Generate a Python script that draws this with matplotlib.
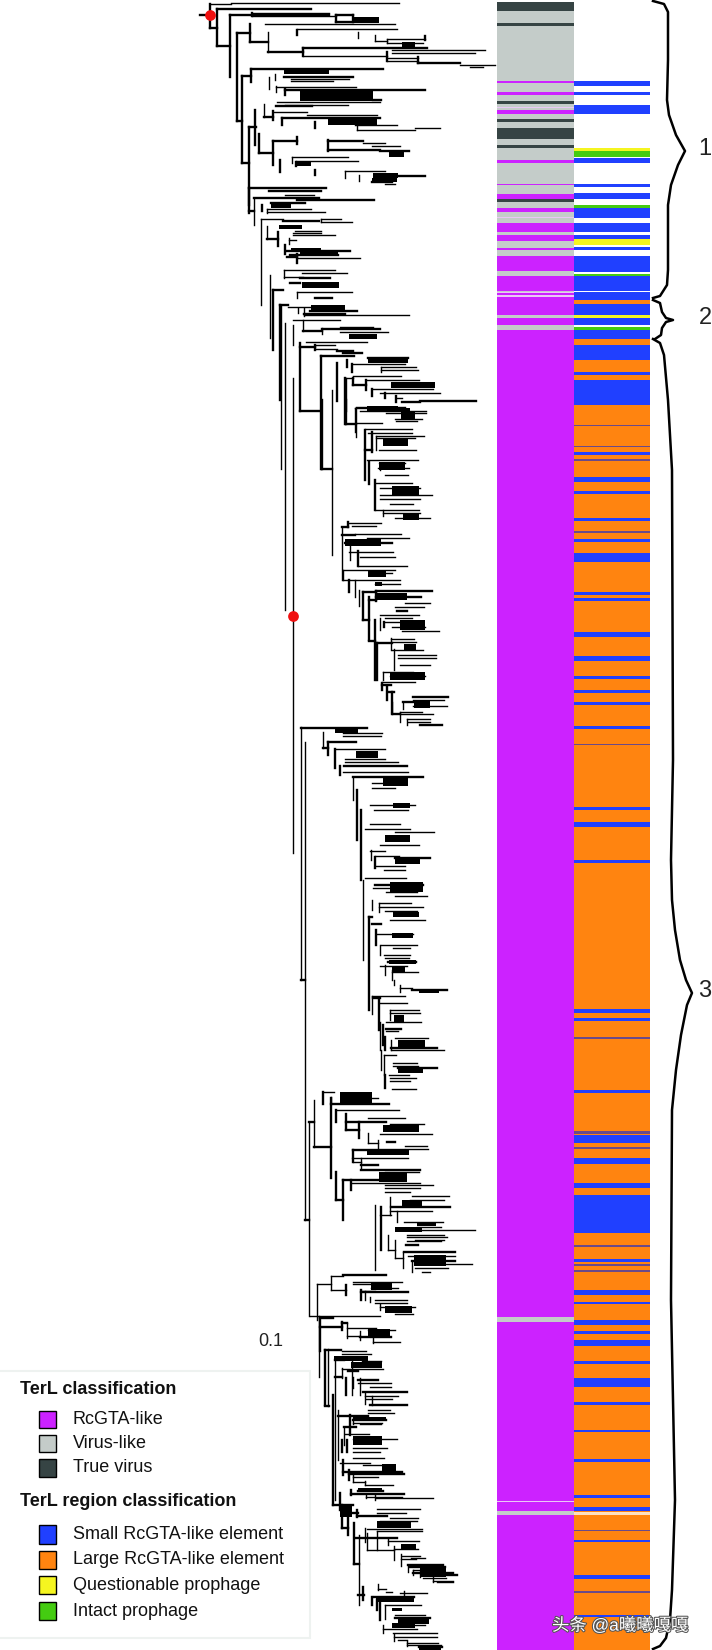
import matplotlib
matplotlib.use("Agg")
import matplotlib.patheffects as pe
import matplotlib.pyplot as plt
import numpy as np

plt.rcParams["font.family"] = ["Liberation Sans", "Noto Sans CJK SC", "DejaVu Sans"]

# stripe limits (image rows)
terl_magenta = [(81, 83), (92, 95), (110, 114), (160, 163), (184, 185), (194, 199), (208, 212), (223, 232),
                (235, 241), (248, 250), (256, 271), (276, 291), (293, 295), (297, 315), (318, 325), (330, 1317),
                (1322, 1501), (1502, 1511), (1515, 1650)]
terl_grey = [(2, 330), (1317, 1322), (1511, 1515)]
terl_dark = [(2, 11), (23, 26), (101, 104), (119, 122), (128, 139), (145, 148), (199, 202)]
terl_pale = [(107, 108), (217, 218), (292, 293), (295, 297), (1501, 1502)]

region_orange = [(300, 304), (339, 345), (360, 372), (375, 380), (405, 1650)]
region_blue = [(81, 86), (92, 95), (105, 114), (158, 163), (184, 187), (193, 199), (208, 218), (223, 232),
               (235, 239), (247, 250), (256, 272), (276, 291), (292, 300), (304, 315), (318, 325), (330, 339),
               (345, 360), (372, 375), (380, 405), (452, 455), (477, 482), (491, 494), (518, 521), (539, 542),
               (553, 562), (592, 595), (598, 601), (632, 637), (656, 661), (676, 679), (690, 693), (702, 705),
               (726, 729), (807, 810), (822, 827), (860, 863), (1009, 1013), (1018, 1021), (1090, 1093),
               (1135, 1143), (1158, 1164), (1183, 1188), (1195, 1233), (1259, 1262), (1290, 1295), (1302, 1304),
               (1320, 1325), (1331, 1334), (1340, 1346), (1361, 1364), (1378, 1387), (1402, 1405), (1430, 1432),
               (1459, 1462), (1495, 1498), (1507, 1511), (1540, 1542), (1575, 1579), (1615, 1617)]
region_slate = [(425, 426), (446, 447), (459, 461), (531, 533), (744, 745), (1037, 1039), (1131, 1134), (1147, 1149),
                (1245, 1247), (1264, 1266), (1270, 1272), (1530, 1531), (1591, 1593)]
region_yellow = [(148, 151), (239, 245), (315, 318)]
region_green = [(151, 157), (205, 208), (274, 276), (327, 330)]
region_pale = [(1512, 1515)]

# tree, top part (y, x0, x1) and (x, y0, y1)
h_thin_a = [(3, 231, 399), (4, 210, 231), (13, 252, 329), (16, 252, 336), (24, 265, 395), (29, 297, 397),
            (50, 392, 485), (53, 392, 475), (56, 303, 387), (58, 387, 418), (61, 387, 418), (65, 460, 495),
            (67, 470, 483), (39, 387, 425), (43, 387, 423), (41, 375, 387), (81, 291, 333), (79, 291, 349),
            (87, 276, 356), (102, 277, 380), (105, 285, 348), (112, 273, 307), (115, 307, 377), (125, 355, 397),
            (130, 357, 415), (128, 415, 440), (143, 363, 385), (146, 372, 400), (157, 292, 348), (161, 296, 358),
            (171, 345, 385), (184, 385, 395), (195, 285, 314), (209, 267, 311), (212, 267, 325), (219, 261, 283),
            (219, 321, 341), (222, 321, 352), (231, 295, 321), (233, 293, 321), (235, 293, 335), (240, 289, 296),
            (258, 298, 360), (270, 284, 335), (273, 302, 347), (277, 284, 303), (292, 297, 352), (307, 288, 312),
            (315, 304, 409), (320, 293, 340), (327, 340, 373), (332, 340, 388), (342, 306, 367), (345, 315, 335),
            (349, 315, 337)]
h_bold_a = [(15, 200, 210), (28, 210, 217), (9, 217, 311), (46, 217, 230), (15, 230, 329), (33, 237, 250),
            (42, 250, 268), (52, 268, 303), (48, 303, 427), (63, 418, 460), (15, 336, 353), (22, 336, 353),
            (76, 242, 251), (69, 251, 383), (77, 284, 353), (90, 285, 425), (100, 373, 381), (106, 276, 312),
            (117, 264, 273), (118, 282, 380), (127, 249, 256), (121, 237, 242), (153, 259, 273), (141, 273, 297),
            (141, 328, 363), (150, 328, 380), (151, 380, 409), (176, 398, 425), (182, 372, 392), (163, 242, 249),
            (188, 249, 326), (191, 269, 321), (198, 254, 319), (200, 297, 374), (203, 271, 305), (211, 249, 254),
            (221, 283, 319), (239, 267, 278), (251, 287, 350), (255, 290, 338), (257, 287, 297), (278, 300, 330),
            (283, 290, 300), (298, 315, 332), (290, 273, 283), (305, 280, 288), (311, 310, 357), (314, 304, 345),
            (329, 322, 380), (331, 303, 322), (347, 300, 315), (351, 337, 353), (353, 343, 362)]
v_thin_a = [(268, 32, 52), (358, 32, 38), (375, 35, 41), (387, 39, 43), (269, 77, 89), (275, 74, 80), (276, 86, 92),
            (264, 104, 117), (357, 125, 130), (292, 157, 163), (345, 171, 178), (359, 175, 181), (254, 198, 225),
            (267, 209, 213), (261, 219, 305), (267, 226, 239), (321, 219, 222), (289, 238, 244), (284, 270, 278),
            (297, 292, 298), (270, 275, 338), (304, 308, 316), (298, 308, 313), (293, 325, 345), (303, 320, 331),
            (322, 328, 334), (285, 323, 610), (281, 305, 469)]
v_bold_a = [(210, 4, 28), (217, 9, 46), (230, 15, 77), (237, 33, 121), (250, 24, 42), (297, 30, 35), (303, 48, 56),
            (387, 52, 61), (418, 57, 63), (425, 36, 40), (252, 13, 16), (336, 15, 22), (353, 15, 22), (242, 76, 163),
            (251, 69, 82), (285, 89, 95), (273, 111, 120), (282, 118, 125), (315, 122, 128), (255, 110, 145),
            (259, 134, 153), (273, 141, 165), (297, 137, 144), (328, 140, 151), (280, 160, 172), (296, 162, 166),
            (315, 170, 175), (249, 127, 205), (249, 188, 213), (262, 205, 211), (278, 232, 246), (285, 245, 254),
            (297, 254, 263), (273, 290, 350), (280, 305, 400), (300, 343, 411), (315, 345, 350)]
blobs_a = [(17, 23, 353, 379), (42, 48, 402, 415), (70, 74, 284, 329), (91, 101, 300, 373), (119, 125, 328, 377),
           (151, 157, 389, 404), (162, 166, 296, 311), (173, 178, 373, 398), (178, 182, 372, 397), (202, 208, 271, 291),
           (225, 229, 279, 302), (248, 252, 291, 321), (250, 256, 300, 338), (282, 288, 302, 339), (305, 312, 311, 345),
           (334, 339, 349, 377)]

# tree, y 340-730
h_thin_b = [(364, 352, 405), (367, 381, 416), (370, 381, 418), (378, 346, 353), (376, 353, 401), (380, 366, 419),
            (389, 372, 433), (393, 380, 440), (398, 396, 402), (408, 355, 398), (411, 360, 426), (419, 395, 422),
            (421, 396, 417), (407, 356, 405), (413, 386, 426), (423, 356, 382), (429, 365, 412), (433, 368, 412),
            (436, 376, 424), (438, 376, 415), (450, 379, 416), (460, 367, 418), (463, 379, 405), (468, 378, 409),
            (475, 385, 408), (483, 375, 412), (488, 380, 420), (495, 380, 432), (499, 380, 420), (504, 390, 413),
            (510, 375, 419), (513, 383, 420), (518, 395, 430), (523, 348, 381), (526, 352, 376), (534, 355, 401),
            (538, 367, 409), (552, 349, 393), (557, 360, 395), (566, 358, 407), (570, 343, 395), (573, 386, 392),
            (580, 343, 400), (584, 375, 400), (603, 405, 430), (607, 395, 424), (615, 380, 419), (618, 385, 412),
            (622, 384, 402), (627, 392, 425), (631, 402, 439), (639, 391, 414), (642, 391, 416), (650, 392, 423),
            (655, 398, 436), (658, 398, 436), (665, 400, 430), (672, 383, 413), (676, 390, 425), (682, 382, 415),
            (700, 413, 444), (706, 413, 447), (712, 400, 422), (714, 400, 433), (719, 407, 430), (722, 408, 430)]
h_bold_b = [(356, 321, 354), (358, 368, 408), (385, 353, 366), (401, 420, 476), (402, 402, 420), (411, 300, 321),
            (424, 346, 356), (469, 322, 332), (450, 365, 372), (543, 345, 392), (527, 342, 348), (535, 342, 355),
            (591, 376, 432), (597, 376, 421), (611, 397, 407), (600, 369, 376), (592, 363, 376), (620, 363, 369),
            (641, 369, 375), (643, 377, 392), (685, 382, 391), (692, 388, 394), (697, 413, 448), (702, 403, 414),
            (714, 392, 400), (725, 420, 442)]
v_thin_b = [(346, 378, 411), (381, 367, 372), (355, 408, 432), (356, 408, 437), (332, 390, 555), (376, 436, 450),
            (380, 463, 470), (383, 510, 516), (342, 527, 580), (350, 545, 560), (343, 570, 580), (355, 580, 597),
            (359, 590, 606), (380, 618, 630), (391, 638, 650), (394, 649, 670), (383, 672, 680), (392, 702, 714),
            (400, 712, 722), (403, 702, 709), (407, 719, 725), (293, 378, 853)]
v_bold_b = [(353, 378, 385), (337, 363, 401), (345, 378, 424), (366, 380, 390), (372, 389, 396), (385, 393, 398),
            (396, 396, 402), (352, 364, 372), (347, 360, 367), (321, 356, 469), (322, 400, 469), (346, 400, 424),
            (365, 430, 480), (372, 432, 452), (369, 462, 484), (375, 480, 510), (348, 522, 527), (358, 551, 566),
            (349, 580, 592), (376, 591, 601), (369, 597, 640), (363, 592, 620), (375, 620, 680), (377, 643, 680),
            (384, 622, 627), (382, 683, 690), (387, 686, 700), (392, 692, 712)]
blobs_b = [(357, 363, 368, 408), (382, 388, 391, 435), (408, 411, 367, 410), (406, 410, 367, 398), (412, 420, 401, 415),
           (439, 446, 383, 408), (462, 470, 379, 405), (486, 496, 392, 419), (514, 520, 403, 419), (539, 546, 345, 381),
           (571, 577, 368, 386), (582, 586, 375, 382), (593, 600, 377, 407), (620, 630, 400, 425), (644, 650, 404, 416),
           (672, 680, 390, 425), (700, 708, 414, 430)]

# tree, y 730-1275
h_thin_c = [(733, 343, 382), (736, 343, 381), (749, 335, 385), (759, 345, 385), (762, 345, 398), (772, 343, 408),
            (783, 372, 395), (788, 372, 395), (805, 370, 415), (810, 374, 408), (824, 370, 400), (829, 365, 410),
            (832, 395, 434), (845, 380, 419), (851, 370, 385), (856, 375, 399), (866, 375, 405), (870, 384, 405),
            (878, 365, 406), (892, 386, 417), (896, 395, 427), (888, 373, 390), (903, 379, 411), (907, 379, 423),
            (911, 385, 417), (920, 390, 425), (934, 377, 413), (945, 381, 417), (948, 393, 410), (955, 384, 410),
            (958, 385, 409), (966, 380, 407), (972, 392, 418), (988, 400, 412), (996, 372, 405), (1003, 379, 407),
            (1010, 390, 419), (1013, 390, 420), (1022, 386, 421), (1031, 386, 398), (1038, 395, 428), (1050, 391, 444),
            (1055, 384, 396), (1063, 393, 417), (1066, 393, 418), (1075, 389, 409), (1078, 390, 416), (1081, 390, 410),
            (1089, 392, 416), (1092, 323, 334), (1098, 350, 378), (1110, 336, 399), (1118, 368, 405), (1124, 390, 424),
            (1134, 380, 432), (1143, 368, 378), (1146, 405, 427), (1149, 405, 428), (1158, 352, 408), (1162, 353, 361),
            (1172, 385, 419), (1183, 351, 420), (1185, 385, 433), (1188, 385, 420), (1192, 385, 410), (1196, 412, 449),
            (1200, 410, 444), (1211, 390, 432), (1215, 380, 391), (1222, 404, 443), (1227, 417, 441), (1230, 421, 475),
            (1235, 407, 444), (1237, 407, 447), (1240, 415, 444), (1241, 407, 441), (1250, 388, 395), (1258, 395, 403),
            (1256, 408, 455), (1264, 420, 472), (1268, 415, 448), (1272, 422, 430)]
h_bold_c = [(728, 301, 367), (742, 328, 356), (748, 323, 328), (766, 344, 407), (777, 353, 423), (858, 395, 430),
            (885, 375, 423), (917, 369, 372), (924, 372, 381), (962, 388, 416), (980, 301, 305), (990, 412, 447),
            (998, 373, 380), (1029, 386, 401), (1048, 391, 437), (1068, 398, 437), (1104, 331, 389), (1122, 346, 386),
            (1130, 346, 359), (1142, 387, 395), (1147, 314, 331), (1122, 309, 314), (1150, 353, 404), (1165, 361, 378),
            (1170, 361, 420), (1180, 343, 400), (1200, 336, 343), (1207, 391, 450), (1245, 406, 418), (1252, 404, 455),
            (1261, 412, 455), (1220, 305, 309)]
v_thin_c = [(301, 727, 980), (323, 732, 748), (305, 742, 1220), (353, 778, 800), (371, 850, 860), (363, 880, 960),
            (372, 900, 910), (379, 903, 912), (380, 945, 955), (385, 965, 975), (392, 970, 980), (394, 980, 985),
            (400, 985, 992), (372, 996, 1014), (390, 1010, 1020), (380, 1022, 1050), (391, 1040, 1050), (384, 1055, 1075),
            (381, 1050, 1070), (314, 1100, 1147), (331, 1097, 1104), (368, 1133, 1143), (378, 1140, 1150),
            (361, 1158, 1168), (390, 1197, 1215), (375, 1205, 1270), (397, 1211, 1222), (388, 1235, 1250),
            (395, 1240, 1258), (403, 1252, 1268), (412, 1262, 1272), (309, 1122, 1316)]
v_bold_c = [(328, 742, 755), (335, 749, 768), (340, 766, 775), (357, 790, 840), (375, 857, 868), (361, 810, 880),
            (369, 917, 1010), (376, 930, 945), (379, 998, 1030), (383, 1025, 1045), (385, 1037, 1050), (385, 1075, 1088),
            (323, 1092, 1104), (336, 1110, 1122), (346, 1114, 1130), (359, 1122, 1138), (331, 1098, 1178),
            (353, 1150, 1162), (351, 1180, 1190), (343, 1180, 1220), (336, 1172, 1200), (381, 1207, 1250)]
blobs_c = [(729, 733, 335, 358), (751, 758, 356, 378), (778, 786, 383, 408), (803, 808, 393, 410), (835, 842, 385, 410),
           (858, 864, 395, 420), (882, 892, 390, 423), (912, 917, 393, 419), (933, 938, 392, 413), (960, 964, 389, 416),
           (967, 972, 392, 405), (989, 993, 419, 439), (1015, 1022, 394, 404), (1040, 1047, 398, 425), (1068, 1073, 398, 423),
           (1092, 1105, 340, 372), (1125, 1132, 383, 419), (1150, 1155, 367, 409), (1172, 1182, 379, 407), (1200, 1206, 402, 422),
           (1222, 1226, 417, 436), (1227, 1232, 395, 422), (1255, 1266, 414, 446)]

# tree, y 1275-1650
h_thin_d = [(1282, 353, 402), (1284, 317, 331), (1290, 331, 346), (1276, 331, 343), (1284, 353, 375), (1288, 371, 398),
            (1291, 361, 375), (1300, 375, 407), (1303, 375, 407), (1307, 380, 415), (1314, 395, 413), (1316, 310, 380),
            (1328, 347, 376), (1330, 368, 395), (1336, 347, 360), (1342, 373, 400), (1351, 342, 366), (1354, 342, 371),
            (1361, 362, 381), (1369, 342, 383), (1383, 358, 391), (1387, 370, 391), (1396, 365, 398), (1399, 366, 392),
            (1410, 368, 390), (1413, 368, 394), (1424, 360, 381), (1423, 353, 382), (1434, 345, 369), (1439, 353, 397),
            (1448, 353, 387), (1452, 353, 380), (1458, 353, 384), (1463, 340, 370), (1465, 363, 392), (1477, 353, 378),
            (1482, 353, 365), (1485, 365, 393), (1497, 366, 402), (1498, 376, 433), (1509, 377, 420), (1513, 377, 406),
            (1518, 390, 418), (1521, 380, 417), (1529, 367, 422), (1531, 377, 422), (1541, 388, 419), (1549, 394, 418),
            (1550, 367, 394), (1556, 402, 420), (1559, 401, 416), (1558, 411, 425), (1570, 413, 441), (1578, 423, 446),
            (1581, 433, 453), (1582, 437, 453), (1589, 378, 386), (1592, 386, 392), (1593, 400, 427), (1605, 385, 421),
            (1615, 395, 425), (1625, 393, 425), (1629, 383, 417), (1633, 393, 437), (1637, 394, 437), (1640, 398, 407),
            (1643, 407, 438), (1645, 407, 441)]
h_bold_d = [(1275, 343, 386), (1292, 361, 408), (1318, 320, 333), (1323, 342, 347), (1327, 320, 342), (1337, 360, 391),
            (1350, 325, 341), (1360, 335, 344), (1377, 335, 342), (1371, 348, 358), (1380, 358, 378), (1392, 363, 407),
            (1405, 370, 407), (1406, 325, 329), (1416, 338, 368), (1420, 353, 386), (1427, 344, 356), (1472, 343, 402),
            (1474, 349, 404), (1494, 351, 404), (1491, 358, 383), (1505, 333, 353), (1528, 342, 348), (1513, 348, 358),
            (1516, 357, 387), (1538, 355, 397), (1564, 354, 359), (1565, 408, 443), (1567, 410, 445), (1573, 413, 453),
            (1575, 423, 457), (1595, 358, 364), (1597, 374, 414), (1618, 395, 430), (1647, 419, 442)]
v_thin_d = [(317, 1284, 1320), (331, 1276, 1290), (365, 1291, 1300), (370, 1297, 1302), (380, 1304, 1310), (347, 1323, 1338),
            (360, 1331, 1340), (373, 1338, 1343), (319, 1316, 1377), (328, 1349, 1406), (335, 1360, 1500), (342, 1368, 1378),
            (352, 1358, 1395), (353, 1377, 1388), (360, 1378, 1395), (365, 1392, 1404), (372, 1396, 1405), (338, 1410, 1460),
            (353, 1418, 1424), (344, 1427, 1445), (353, 1474, 1482), (365, 1481, 1485), (366, 1495, 1498), (375, 1494, 1500),
            (359, 1535, 1605), (365, 1528, 1542), (377, 1531, 1550), (367, 1533, 1550), (388, 1538, 1545), (394, 1546, 1560),
            (401, 1554, 1566), (408, 1565, 1572), (413, 1570, 1575), (420, 1570, 1577), (433, 1573, 1582), (378, 1584, 1590),
            (404, 1591, 1596), (385, 1605, 1619), (383, 1625, 1633), (394, 1634, 1641), (407, 1641, 1646)]
v_bold_d = [(346, 1285, 1295), (361, 1290, 1300), (320, 1318, 1351), (342, 1322, 1330), (325, 1350, 1405), (346, 1378, 1395),
            (333, 1395, 1505), (350, 1415, 1435), (342, 1440, 1452), (347, 1440, 1452), (343, 1460, 1475), (349, 1470, 1480),
            (351, 1490, 1495), (340, 1493, 1510), (342, 1505, 1528), (348, 1513, 1535), (357, 1510, 1517), (354, 1523, 1564),
            (363, 1587, 1600), (372, 1597, 1605), (377, 1600, 1610), (380, 1602, 1620)]
blobs_d = [(1282, 1290, 371, 392), (1306, 1313, 385, 412), (1329, 1337, 368, 390), (1356, 1361, 334, 368), (1362, 1368, 351, 382),
           (1417, 1421, 353, 386), (1436, 1445, 353, 382), (1464, 1472, 382, 396), (1488, 1492, 358, 382), (1505, 1517, 340, 352),
           (1521, 1528, 377, 411), (1544, 1549, 401, 416), (1568, 1577, 420, 446), (1597, 1602, 376, 414), (1608, 1611, 392, 402),
           (1618, 1624, 398, 429), (1623, 1628, 392, 415), (1645, 1650, 419, 441)]

red_x = [210, 293]
red_y = [15, 616]

brace_1_x = [653, 664, 668, 668, 667, 669, 676, 685, 678, 671, 668, 668, 667, 660, 653]
brace_1_y = [1, 4, 12, 60, 100, 115, 135, 151, 165, 185, 205, 270, 285, 296, 298]
brace_2_x = [653, 660, 662, 666, 673, 666, 662, 661, 655]
brace_2_y = [300, 303, 312, 318, 320, 322, 328, 335, 339]
brace_3_x = [653, 660, 664, 668, 672, 673, 671, 672, 675, 680, 686, 692, 687, 681, 676, 672, 671, 673, 675, 672, 670, 666, 660, 653]
brace_3_y = [339, 343, 355, 400, 470, 760, 860, 900, 930, 960, 980, 993, 1005, 1035, 1070, 1110, 1300, 1400, 1500, 1590, 1620, 1638, 1646, 1649]
brace_labels = ["1", "2", "3"]
brace_label_y = [149, 318, 991]

terl_labels = ["RcGTA-like", "Virus-like", "True virus"]
region_labels = ["Small RcGTA-like element", "Large RcGTA-like element", "Questionable prophage", "Intact prophage"]

MAGENTA, GREY, DARK = "#CC22FF", "#C4CCC9", "#364444"
BLUE, ORANGE, YELLOW, GREEN = "#2040FF", "#FF8410", "#F5F520", "#44CC11"


def stripes(ax, spans, x0, x1, color):
    spans = np.array(spans, dtype=float)
    ax.barh(spans[:, 0], x1 - x0, height=spans[:, 1] - spans[:, 0], left=x0, align="edge", color=color, linewidth=0)


def tree_lines(ax, h_rows, v_rows, lw):
    h_rows = np.array(h_rows, dtype=float)
    v_rows = np.array(v_rows, dtype=float)
    ax.hlines(h_rows[:, 0], h_rows[:, 1], h_rows[:, 2], color="black", lw=lw, capstyle="projecting")
    ax.vlines(v_rows[:, 0], v_rows[:, 1], v_rows[:, 2], color="black", lw=lw, capstyle="projecting")


fig = plt.figure(figsize=(7.12, 16.5), dpi=100)
ax = fig.add_axes([0, 0, 1, 1])
ax.set_xlim(0, 712)
ax.set_ylim(1650, 0)
ax.axis("off")

# classification columns
stripes(ax, terl_grey, 497, 574, GREY)
stripes(ax, terl_magenta, 497, 574, MAGENTA)
stripes(ax, terl_dark, 497, 574, DARK)
stripes(ax, terl_pale, 497, 574, "#EAC8F5")
stripes(ax, region_orange, 574, 650, ORANGE)
stripes(ax, region_blue, 574, 650, BLUE)
stripes(ax, region_slate, 574, 650, "#6A4A8A")
stripes(ax, region_yellow, 574, 650, YELLOW)
stripes(ax, region_green, 574, 650, GREEN)
stripes(ax, region_pale, 574, 650, "#FFE0C0")

# tree
for h_rows, v_rows in [(h_thin_a, v_thin_a), (h_thin_b, v_thin_b), (h_thin_c, v_thin_c), (h_thin_d, v_thin_d)]:
    tree_lines(ax, h_rows, v_rows, 1.0)
for h_rows, v_rows in [(h_bold_a, v_bold_a), (h_bold_b, v_bold_b), (h_bold_c, v_bold_c), (h_bold_d, v_bold_d)]:
    tree_lines(ax, h_rows, v_rows, 1.7)
for blobs in [blobs_a, blobs_b, blobs_c, blobs_d]:
    b = np.array(blobs, dtype=float)
    ax.barh(b[:, 0], b[:, 3] - b[:, 2], height=b[:, 1] - b[:, 0], left=b[:, 2], align="edge", color="black", linewidth=0)
ax.scatter(red_x, red_y, s=60, color="#F01010", linewidth=0, zorder=5)

# braces
for xs, ys in [(brace_1_x, brace_1_y), (brace_2_x, brace_2_y), (brace_3_x, brace_3_y)]:
    ax.plot(xs, ys, color="black", lw=1.8)
for label, y in zip(brace_labels, brace_label_y):
    ax.text(705, y, label, fontsize=17, ha="center", va="center", color="#222222")

ax.text(271, 1342, "0.1", fontsize=13, ha="center", va="center", color="#222222")

# legend
ax.add_patch(plt.Rectangle((-5, 1371), 315, 267, facecolor="white", edgecolor="#EEF2F0", lw=1.5))
ax.text(20, 1389, "TerL classification", fontsize=13, fontweight="bold", va="center", color="#111111")
ax.text(20, 1502, "TerL region classification", fontsize=13, fontweight="bold", va="center", color="#111111")
for y0, y1, label, color in zip([1411, 1435, 1459], [1428, 1452, 1477], terl_labels, [MAGENTA, GREY, DARK]):
    ax.add_patch(plt.Rectangle((39, y0), 17, y1 - y0, facecolor=color, edgecolor="black", lw=1))
    ax.text(73, (y0 + y1) / 2, label, fontsize=13, va="center", color="#111111")
for y0, y1, label, color in zip([1525, 1551, 1576, 1602], [1544, 1569, 1594, 1620], region_labels,
                                [BLUE, ORANGE, YELLOW, GREEN]):
    ax.add_patch(plt.Rectangle((39, y0), 17, y1 - y0, facecolor=color, edgecolor="black", lw=1))
    ax.text(73, (y0 + y1) / 2, label, fontsize=13, va="center", color="#111111")

# watermark
ax.text(552, 1625, "头条 @a曦曦嘎嘎", fontsize=12.5, va="center", color="white", zorder=6,
        path_effects=[pe.withStroke(linewidth=1.5, foreground="#555555")])

fig.savefig("out.png", dpi=100)
